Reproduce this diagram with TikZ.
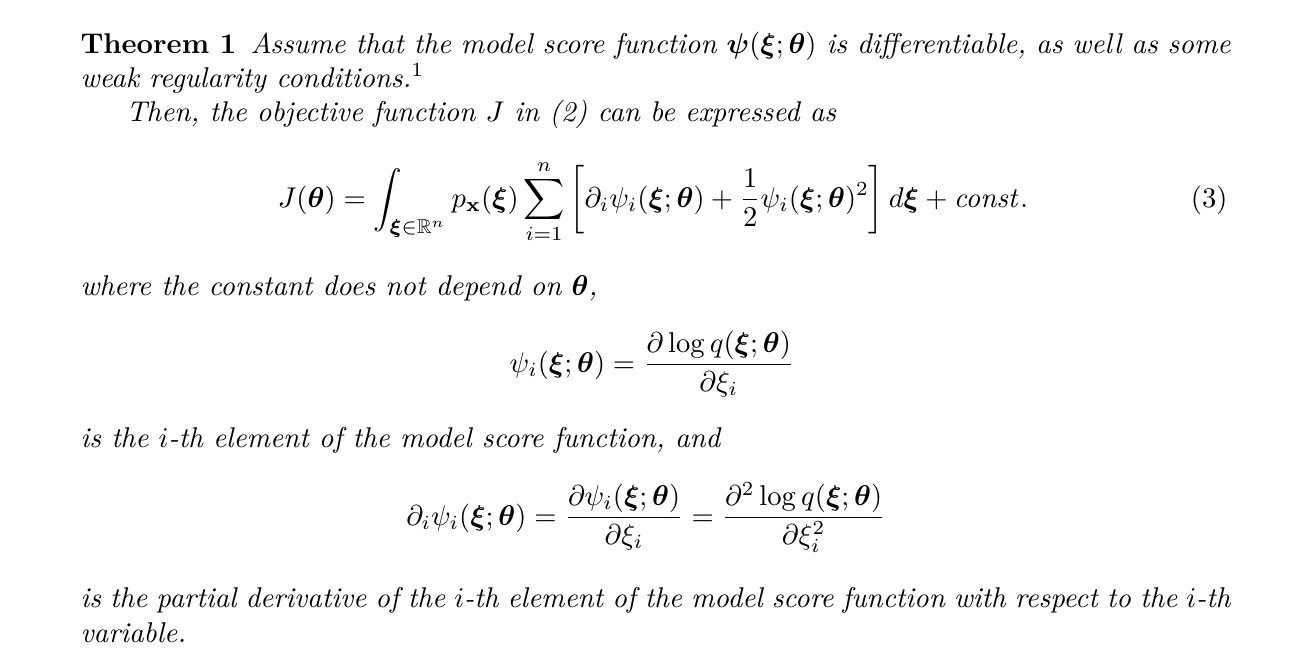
\documentclass[tikz,border=0pt]{standalone}
\usepackage{amsmath,amssymb,bm}
\begin{document}
\begin{tikzpicture}[x=0.35pt,y=-0.35pt,
  para/.style={anchor=north west,text width=402.5pt,align=justify,inner sep=0pt},
  line/.style={anchor=base west,inner sep=0pt},
  eqn/.style={anchor=base,inner sep=0pt}]
\useasboundingbox (0,0) rectangle (1314,654);
\node[para] (p1) at (80,31) {\textbf{Theorem 1}\enspace\textit{Assume that the model score function $\bm\psi(\bm\xi;\bm\theta)$ is differentiable, as well as some weak regularity conditions.}\textsuperscript{1}\par\hspace*{16pt}\textit{Then, the objective function $J$ in (2) can be expressed as}};
\node[eqn] (e3) at (653,207) {$\displaystyle J(\bm\theta)=\int_{\bm\xi\in\mathbb{R}^n} p_{\mathbf x}(\bm\xi)\sum_{i=1}^n\left[\partial_i\psi_i(\bm\xi;\bm\theta)+\frac12\psi_i(\bm\xi;\bm\theta)^2\right]d\bm\xi+\mathit{const.}$};
\node[anchor=base east,inner sep=0pt] (n3) at (1228,207) {(3)};
\node[line] (w) at (80,295) {\textit{where the constant does not depend on $\bm\theta$,}};
\node[eqn] (e4) at (652,372) {$\displaystyle \psi_i(\bm\xi;\bm\theta)=\frac{\partial\log q(\bm\xi;\bm\theta)}{\partial\xi_i}$};
\node[line] (t2) at (80,447) {\textit{is the $i$-th element of the model score function, and}};
\node[eqn] (e5) at (646,525) {$\displaystyle \partial_i\psi_i(\bm\xi;\bm\theta)=\frac{\partial\psi_i(\bm\xi;\bm\theta)}{\partial\xi_i}=\frac{\partial^2\log q(\bm\xi;\bm\theta)}{\partial\xi_i^2}$};
\node[para] (p2) at (80,587) {\textit{is the partial derivative of the $i$-th element of the model score function with respect to the $i$-th variable.}};
\end{tikzpicture}
\end{document}
